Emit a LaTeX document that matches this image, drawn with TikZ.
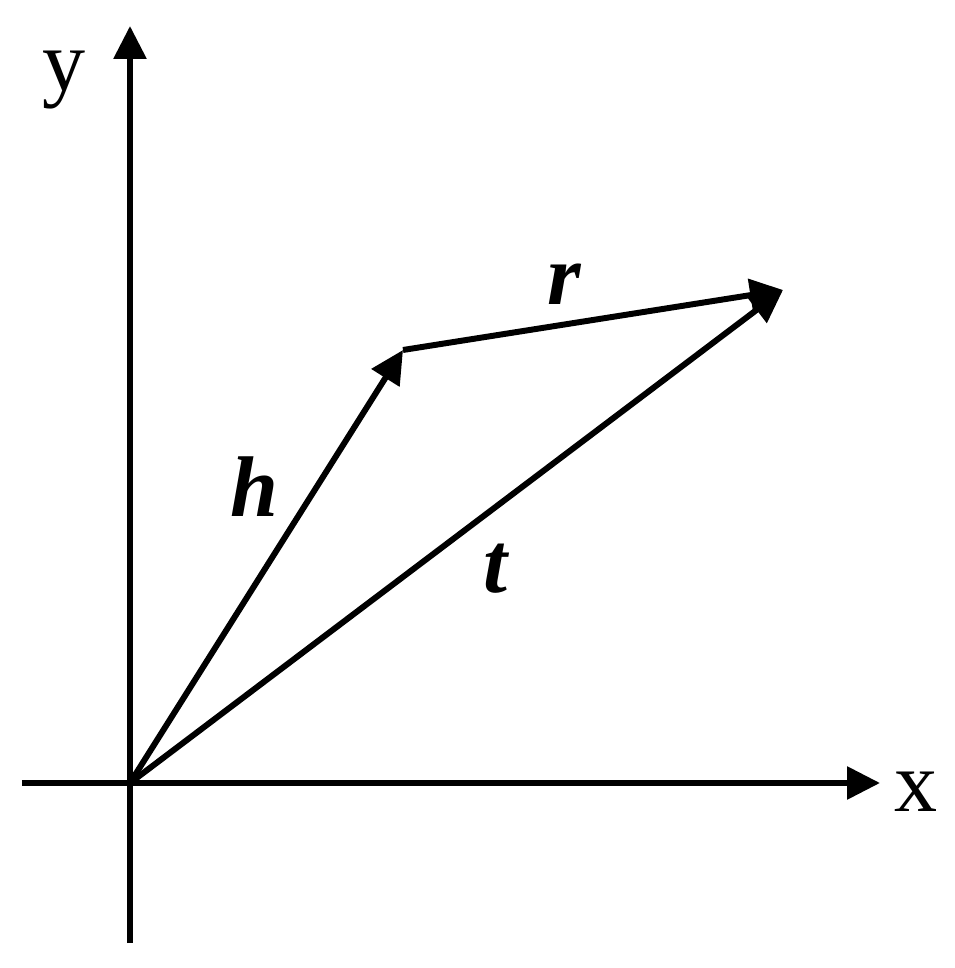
\documentclass[tikz,border=0pt]{standalone}
\usepackage{fontspec}
\setmainfont{Liberation Serif}
\usetikzlibrary{arrows.meta}
\tikzset{
  vec/.style={line width=1.7pt,-{Triangle[length=3.3mm,width=3.2mm]}},
  lbl/.style={anchor=base,inner sep=0pt,font=\fontsize{24.5}{28}\selectfont}
}
\begin{document}
\begin{tikzpicture}
                \useasboundingbox (-1.30,-1.85) rectangle (8.24,7.83);
                \coordinate (O) at (0,0);
                \coordinate (xs) at (-1.08,0);
                \coordinate (xe) at (7.50,0);
                \coordinate (ys) at (0,-1.60);
                \coordinate (ye) at (0,7.57);
                \coordinate (H) at (2.73,4.33);
                \coordinate (T) at (6.53,4.93);
                \draw[vec] (xs) -- (xe);
                \draw[vec] (ys) -- (ye);
                \draw[vec] (O) -- (H);
                \draw[vec] (H) -- (T);
                \draw[vec] (O) -- (T);
                \node[lbl] (xlbl) at (7.86,-0.29) {x};
                \node[lbl] (ylbl) at (-0.66,6.92) {y};
                \node[lbl] (hlbl) at (1.24,2.66) {\textbf{\textit{h}}};
                \node[lbl] (rlbl) at (4.35,4.78) {\textbf{\textit{r}}};
                \node[lbl] (tlbl) at (3.67,1.90) {\textbf{\textit{t}}};
            \end{tikzpicture}
\end{document}
